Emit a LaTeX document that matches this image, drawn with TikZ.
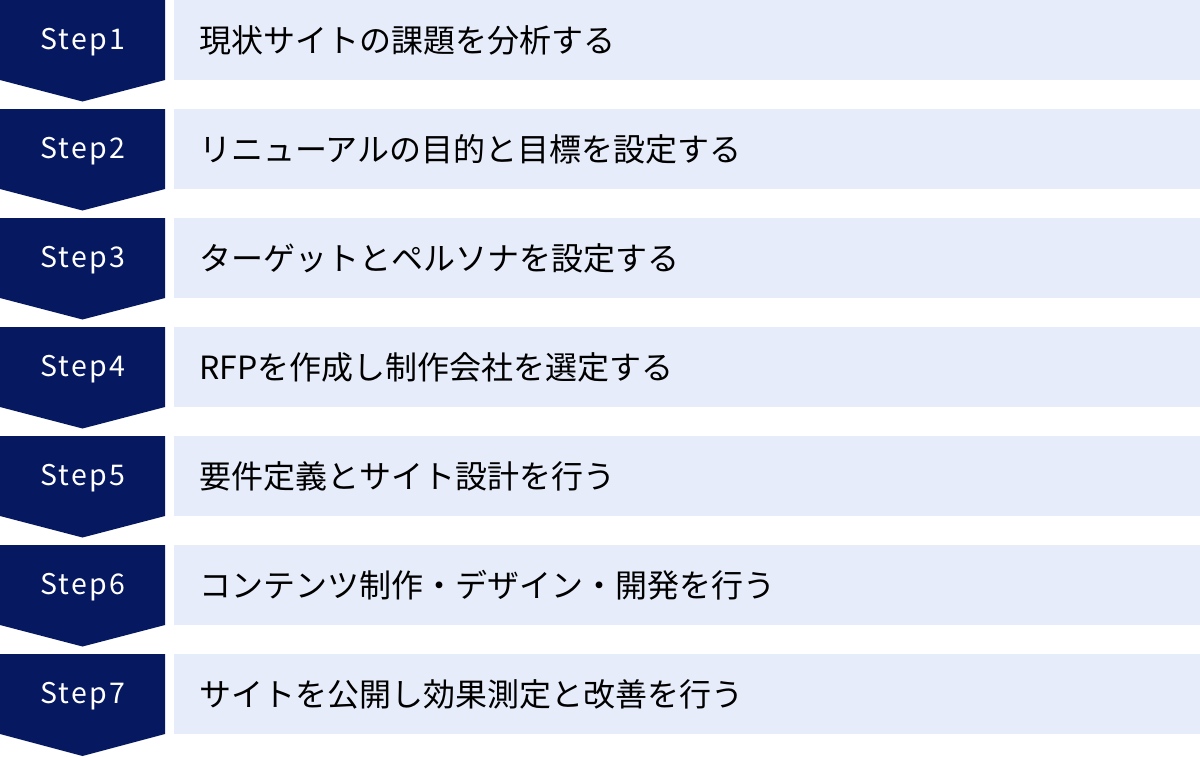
\documentclass[tikz,border=0pt]{standalone}
\usepackage{fontspec}
\setmainfont{Noto Sans CJK JP}
\newfontfamily\stepfont[LetterSpace=8]{Noto Sans CJK JP}
\definecolor{navy}{RGB}{5,24,96}
\definecolor{pale}{RGB}{230,236,249}
\begin{document}
\begin{tikzpicture}[x=1pt, y=-1pt,
  stepbox/.style={fill=navy},
  steplabel/.style={text=white, inner sep=0pt, font=\stepfont\fontsize{28.5}{32}\selectfont},
  taskbox/.style={fill=pale},
  tasklabel/.style={anchor=west, inner sep=0pt, font=\fontsize{32}{36}\selectfont}]
\useasboundingbox (0,0) rectangle (1200,756);
% Step 1
\fill[stepbox] (0,0) -- (165,0) -- (165,80) -- (82.5,101.5) -- (0,80) -- cycle;
\node[steplabel] (s1) at (82.5,42) {Step1};
\fill[taskbox] (174,0) rectangle (1200,80);
\node[tasklabel] (t1) at (199,40) {現状サイトの課題を分析する};
% Step 2
\fill[stepbox] (0,109) -- (165,109) -- (165,189) -- (82.5,210.5) -- (0,189) -- cycle;
\node[steplabel] (s2) at (82.5,151) {Step2};
\fill[taskbox] (174,109) rectangle (1200,189);
\node[tasklabel] (t2) at (199,149) {リニューアルの目的と目標を設定する};
% Step 3
\fill[stepbox] (0,218) -- (165,218) -- (165,298) -- (82.5,319.5) -- (0,298) -- cycle;
\node[steplabel] (s3) at (82.5,260) {Step3};
\fill[taskbox] (174,218) rectangle (1200,298);
\node[tasklabel] (t3) at (199,258) {ターゲットとペルソナを設定する};
% Step 4
\fill[stepbox] (0,327) -- (165,327) -- (165,407) -- (82.5,428.5) -- (0,407) -- cycle;
\node[steplabel] (s4) at (82.5,369) {Step4};
\fill[taskbox] (174,327) rectangle (1200,407);
\node[tasklabel] (t4) at (199,367) {RFPを作成し制作会社を選定する};
% Step 5
\fill[stepbox] (0,436) -- (165,436) -- (165,516) -- (82.5,537.5) -- (0,516) -- cycle;
\node[steplabel] (s5) at (82.5,478) {Step5};
\fill[taskbox] (174,436) rectangle (1200,516);
\node[tasklabel] (t5) at (199,476) {要件定義とサイト設計を行う};
% Step 6
\fill[stepbox] (0,545) -- (165,545) -- (165,625) -- (82.5,646.5) -- (0,625) -- cycle;
\node[steplabel] (s6) at (82.5,587) {Step6};
\fill[taskbox] (174,545) rectangle (1200,625);
\node[tasklabel] (t6) at (199,585) {コンテンツ制作・デザイン・開発を行う};
% Step 7
\fill[stepbox] (0,654) -- (165,654) -- (165,734) -- (82.5,756) -- (0,734) -- cycle;
\node[steplabel] (s7) at (82.5,696) {Step7};
\fill[taskbox] (174,654) rectangle (1200,734);
\node[tasklabel] (t7) at (199,694) {サイトを公開し効果測定と改善を行う};
\end{tikzpicture}
\end{document}
